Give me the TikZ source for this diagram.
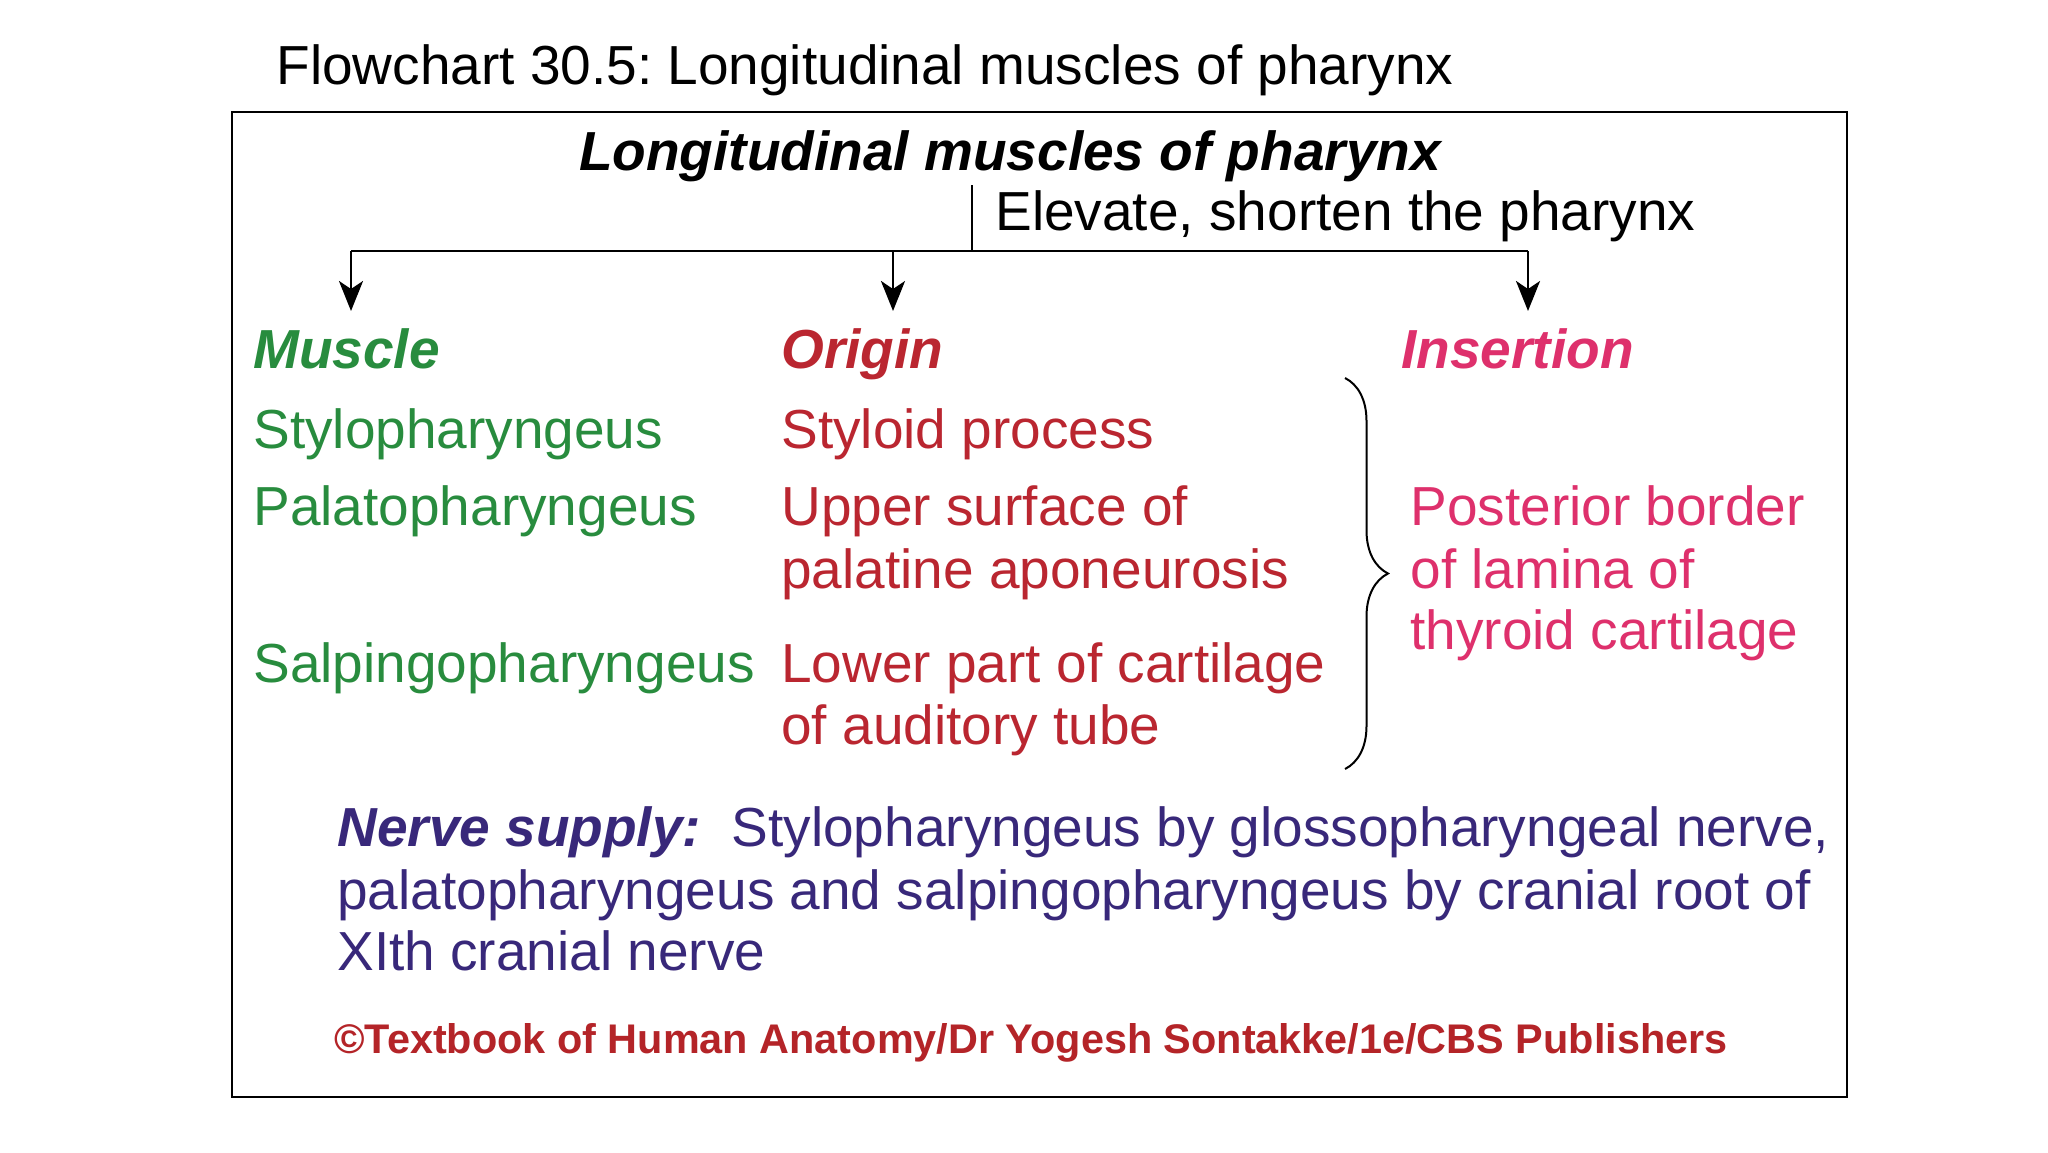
\documentclass[tikz,border=0pt]{standalone}
\usepackage{fontspec}
\setmainfont{Liberation Sans}
\usetikzlibrary{arrows.meta,decorations.pathreplacing}
\definecolor{mgreen}{RGB}{40,140,62}
\definecolor{ored}{RGB}{186,38,48}
\definecolor{ipink}{RGB}{222,48,108}
\definecolor{nindigo}{RGB}{56,40,122}
\definecolor{cred}{RGB}{180,36,40}
\tikzset{
  txt/.style={inner sep=0pt, anchor=base west, font=\fontsize{27.5}{33}\selectfont},
  hdr/.style={txt, font=\fontsize{27.5}{33}\selectfont\bfseries\itshape},
  conn/.style={line width=1.4pt},
  arr/.style={conn, -{Stealth[length=15pt,width=12pt,inset=4pt]}},
}
\frenchspacing
\begin{document}
\frenchspacing
\begin{tikzpicture}[x=0.5pt,y=-0.5pt]
\useasboundingbox (0,0) rectangle (2048,1152);
\fill[white] (0,0) rectangle (2048,1152);
% frame
\draw[line width=1.1pt] (232,112) rectangle (1847,1097);
% title
\node[txt] (title) at (276,84) {Flowchart 30.5: Longitudinal muscles of pharynx};
% heading
\node[hdr, anchor=base] (head) at (1010,170) {Longitudinal muscles of pharynx};
\node[txt] (elev) at (995,230) {Elevate, shorten the pharynx};
% connectors
\coordinate (vtop) at (972,185);
\coordinate (hub) at (972,251);
\coordinate (hl) at (351,251);
\coordinate (hm) at (893,251);
\coordinate (hr) at (1528,251);
\coordinate (el) at (351,311);
\coordinate (em) at (893,311);
\coordinate (er) at (1528,311);
\draw[line width=0.8pt] (vtop) -- (hub);
\draw[conn] (hl) -- (hr);
\draw[arr] (hl) -- (el);
\draw[arr] (hm) -- (em);
\draw[arr] (hr) -- (er);
% column headers
\node[hdr, text=mgreen] (mus) at (253,368) {Muscle};
\node[hdr, text=ored] (ori) at (781,368) {Origin};
\node[hdr, text=ipink] (ins) at (1401,368) {Insertion};
% muscles
\node[txt, text=mgreen] (m1) at (253,448) {Stylopharyngeus};
\node[txt, text=mgreen] (m2) at (253,525) {Palatopharyngeus};
\node[txt, text=mgreen] (m3) at (253,682) {Salpingopharyngeus};
% origins
\node[txt, text=ored] (o1) at (781,448) {Styloid process};
\node[txt, text=ored] (o2a) at (781,525) {Upper surface of};
\node[txt, text=ored] (o2b) at (781,588) {palatine aponeurosis};
\node[txt, text=ored] (o3a) at (781,682) {Lower part of cartilage};
\node[txt, text=ored] (o3b) at (781,744) {of auditory tube};
% brace
\coordinate (btop) at (1345,378);
\coordinate (bbot) at (1345,769);
\draw[line width=1pt, decorate, decoration={brace, amplitude=21.5pt}] (btop) -- (bbot);
% insertion
\node[txt, text=ipink] (i1) at (1410,525) {Posterior border};
\node[txt, text=ipink] (i2) at (1410,588) {of lamina of};
\node[txt, text=ipink] (i3) at (1410,649) {thyroid cartilage};
% nerve supply
\node[txt, text=nindigo] (n1) at (337,846) {\textbf{\textit{Nerve supply:}}\ \ Stylopharyngeus by glossopharyngeal nerve,};
\node[txt, text=nindigo] (n2) at (337,909) {palatopharyngeus and salpingopharyngeus by cranial root of};
\node[txt, text=nindigo] (n3) at (337,970) {XIth cranial nerve};
% copyright
\node[txt, text=cred, font=\fontsize{20.7}{25}\selectfont\bfseries] (copy) at (334,1053) {©Textbook of Human Anatomy/Dr Yogesh Sontakke/1e/CBS Publishers};
\end{tikzpicture}
\end{document}
